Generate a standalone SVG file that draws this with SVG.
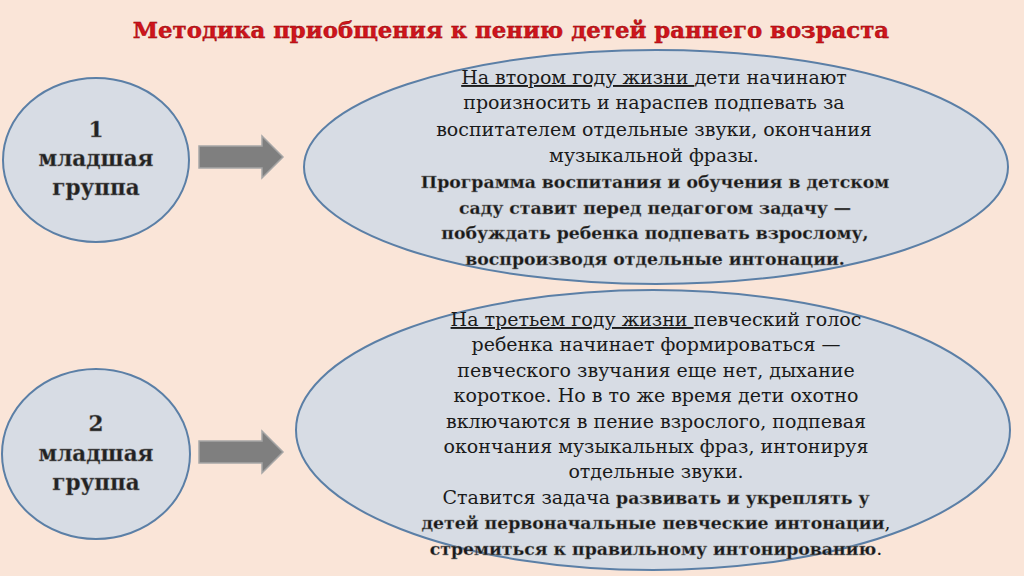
<svg xmlns="http://www.w3.org/2000/svg" width="1024" height="576" viewBox="0 0 1024 576">
<style>
.ov{fill:#D7DCE4;stroke:#5B7FA6;stroke-width:2}
.ar{fill:#7F7F7F;stroke:#A6A6A6;stroke-width:1.5}
.t{font-family:"DejaVu Serif",serif;font-size:19px;fill:#1a1a1a;text-anchor:middle}
.b{font-weight:bold;font-size:17.3px;stroke:#888;stroke-width:0.3}
.g{font-family:"DejaVu Serif",serif;font-size:21.5px;font-weight:bold;fill:#222;text-anchor:middle;stroke:#777;stroke-width:0.4}
</style>
<rect width="1024" height="576" fill="#FAE5D8"/>
<text x="511" y="38" style="font-family:'DejaVu Serif',serif;font-size:22.8px;font-weight:bold;fill:#D0141C;stroke:#8a0000;stroke-width:0.4" text-anchor="middle">Методика приобщения к пению детей раннего возраста</text>
<g id="group1"><ellipse class="ov" cx="96" cy="160" rx="93" ry="82"/>
<text class="g" x="96" y="137">1</text><text class="g" x="96" y="166">младшая</text><text class="g" x="96" y="195">группа</text></g>
<g id="group2"><ellipse class="ov" cx="96" cy="454" rx="94" ry="85"/>
<text class="g" x="96" y="431">2</text><text class="g" x="96" y="461">младшая</text><text class="g" x="96" y="490">группа</text></g>
<g id="connectors">
<path class="ar" d="M199,146 H262 V136 L283,157 L262,178 V168 H199 Z"/>
<path class="ar" d="M199,441 H262 V431 L283,452 L262,473 V463 H199 Z"/>
</g>
<g id="text1"><ellipse class="ov" cx="656" cy="167" rx="352" ry="117"/>
<text class="t" x="654" y="84"><tspan text-decoration="underline">На втором году жизни </tspan>дети  начинают</text>
<text class="t" x="654" y="109">произносить и нараспев подпевать за</text>
<text class="t" x="654" y="136">воспитателем отдельные звуки, окончания</text>
<text class="t" x="654" y="162">музыкальной фразы.</text>
<text class="t b" x="655" y="188">Программа воспитания и обучения в детском</text>
<text class="t b" x="655" y="214">саду ставит перед педагогом задачу —</text>
<text class="t b" x="655" y="239">побуждать ребенка подпевать взрослому,</text>
<text class="t b" x="655" y="265">воспроизводя отдельные интонации.</text></g>
<g id="text2"><ellipse class="ov" cx="653" cy="430" rx="357" ry="140"/>
<text class="t" x="656" y="326"><tspan text-decoration="underline">На третьем году жизни </tspan>певческий голос</text>
<text class="t" x="656" y="351">ребенка начинает формироваться —</text>
<text class="t" x="656" y="377">певческого звучания еще нет, дыхание</text>
<text class="t" x="656" y="402">короткое. Но в то же время дети охотно</text>
<text class="t" x="656" y="428">включаются в пение взрослого, подпевая</text>
<text class="t" x="656" y="453">окончания  музыкальных фраз, интонируя</text>
<text class="t" x="656" y="478">отдельные звуки.</text>
<text class="t" x="656" y="504">Ставится задача <tspan class="b">развивать и укреплять у</tspan></text>
<text class="t" x="656" y="529"><tspan class="b">детей первоначальные певческие интонации</tspan>,</text>
<text class="t" x="656" y="555"><tspan class="b">стремиться к правильному интонированию</tspan>.</text></g>
</svg>
